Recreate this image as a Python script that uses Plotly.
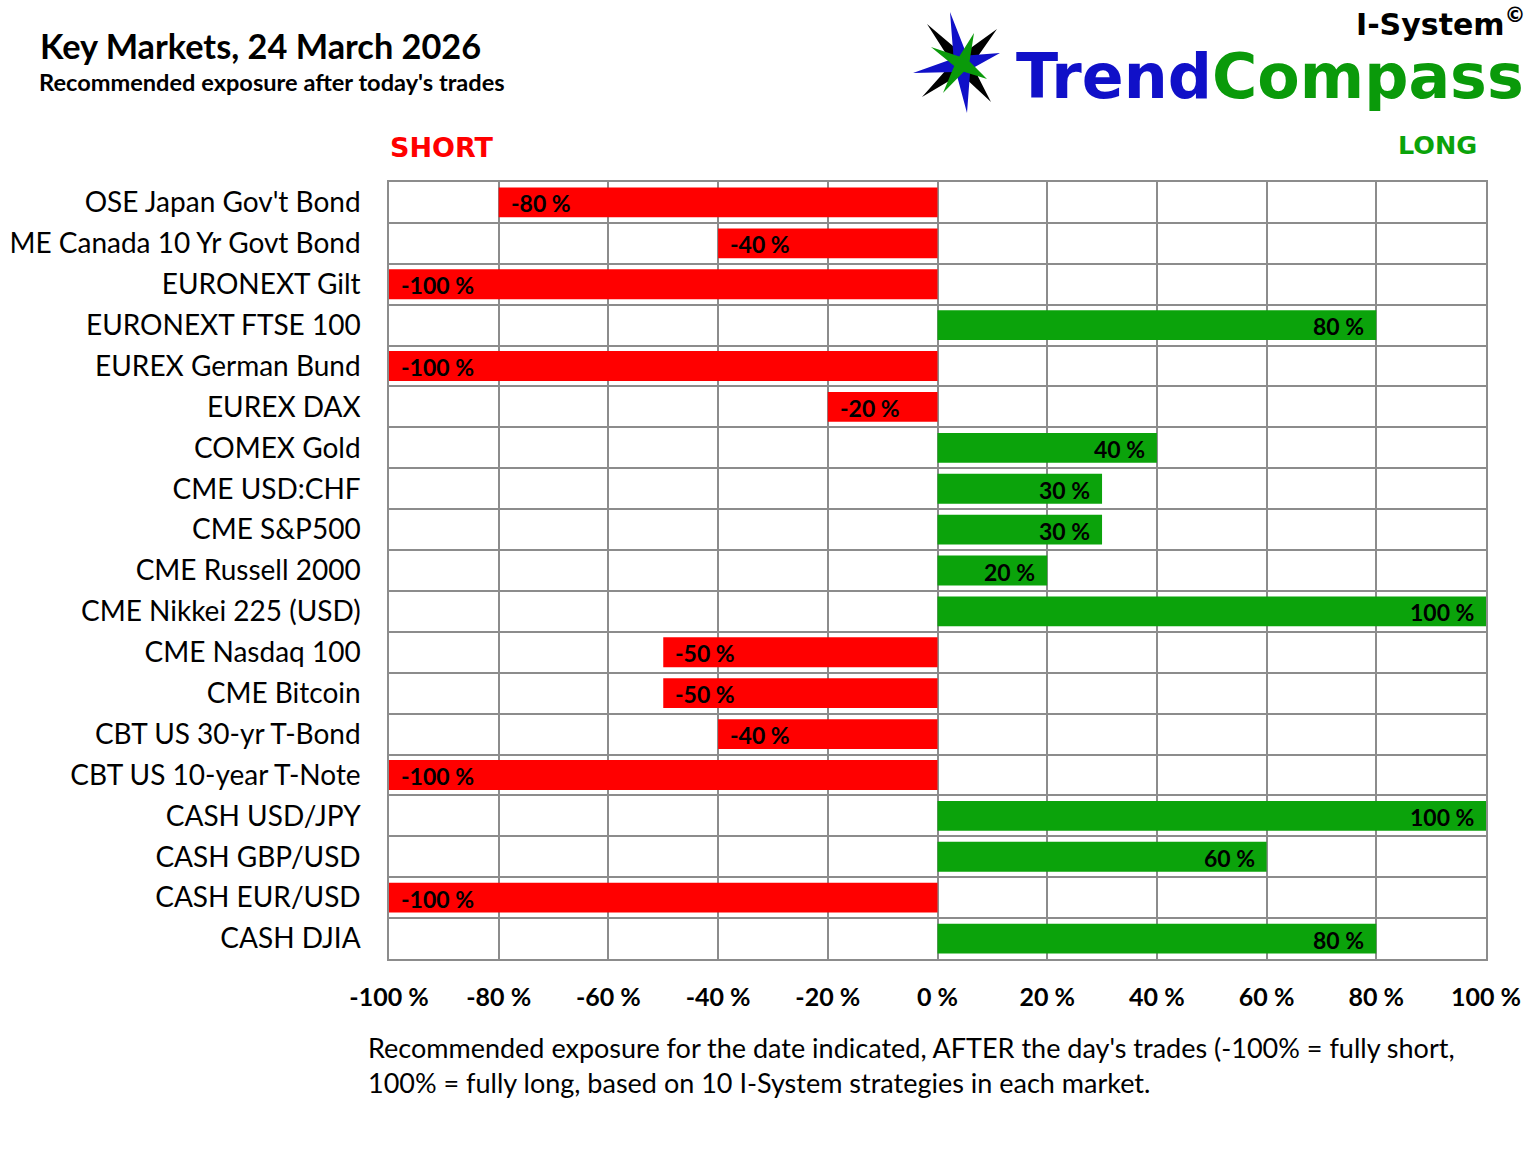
import plotly.graph_objects as go
import math

markets = [
    "OSE Japan Gov't Bond", "ME Canada 10 Yr Govt Bond", "EURONEXT Gilt",
    "EURONEXT FTSE 100", "EUREX German Bund", "EUREX DAX", "COMEX Gold",
    "CME USD:CHF", "CME S&P500", "CME Russell 2000", "CME Nikkei 225 (USD)",
    "CME Nasdaq 100", "CME Bitcoin", "CBT US 30-yr T-Bond",
    "CBT US 10-year T-Note", "CASH USD/JPY", "CASH GBP/USD", "CASH EUR/USD",
    "CASH DJIA",
]
exposure = [-80, -40, -100, 80, -100, -20, 40, 30, 30, 20, 100, -50, -50,
            -40, -100, 100, 60, -100, 80]
x_ticks = [-100, -80, -60, -40, -20, 0, 20, 40, 60, 80, 100]
x_tick_labels = [f"{v} %" for v in x_ticks]

RED = "#FF0000"
GREEN = "#0BA30B"
GRID = "#8C8C8C"
FONT = "Lato"
LOGO_FONT = "DejaVu Sans"

W, H = 1535, 1150
L, R, T, B = 389, 49, 182, 191
PW, PH = W - L - R, H - T - B

def px(x):
    return (x - L) / PW

def py(y):
    return (H - B - y) / PH

ypos = list(range(len(markets)))
colors = [RED if v < 0 else GREEN for v in exposure]

fig = go.Figure()
fig.add_trace(go.Bar(
    x=exposure, y=ypos, orientation="h", marker=dict(color=colors, line=dict(width=0)),
    width=0.73, hoverinfo="skip", showlegend=False,
))

annotations = []
for i, v in enumerate(exposure):
    annotations.append(dict(
        x=v, y=i, xref="x", yref="y", text=f"{v} %", showarrow=False,
        xanchor="left" if v < 0 else "right", xshift=10 if v < 0 else -10,
        yshift=-1,
        font=dict(family=FONT, size=23, color="black", weight="bold"),
    ))

def logo_font(size, color):
    return dict(family=LOGO_FONT, size=size, color=color, weight="bold")

annotations += [
    dict(text="Key Markets, 24 March 2026", x=px(38), y=py(45), xref="paper", yref="paper",
         xanchor="left", yanchor="middle", showarrow=False,
         font=dict(family=FONT, size=34.3, color="black", weight="bold")),
    dict(text="Recommended exposure after today's trades", x=px(37), y=py(82), xref="paper",
         yref="paper", xanchor="left", yanchor="middle", showarrow=False,
         font=dict(family=FONT, size=23.6, color="black", weight="bold")),
    dict(text="SHORT", x=px(388), y=py(147), xref="paper", yref="paper",
         xanchor="left", yanchor="middle", showarrow=False,
         font=logo_font(27, RED)),
    dict(text="LONG", x=px(1479), y=py(145), xref="paper", yref="paper",
         xanchor="right", yanchor="middle", showarrow=False,
         font=logo_font(25.5, GREEN)),
    dict(text='<span style="color:#1010C8">Trend</span><span style="color:#0A9A0A">Compass</span>',
         x=px(1526), y=py(77), xref="paper", yref="paper",
         xanchor="right", yanchor="middle", showarrow=False,
         font=logo_font(61.8, "#0A9A0A")),
    dict(text="I-System<sup>©</sup>", x=px(1528), y=py(22), xref="paper", yref="paper",
         xanchor="right", yanchor="middle", showarrow=False,
         font=logo_font(30, "black")),
    dict(text="Recommended exposure for the date indicated, AFTER the day's trades (-100% = fully short,<br>100% = fully long, based on 10 I-System strategies in each market.",
         x=px(366), y=py(1029), xref="paper", yref="paper", xanchor="left", yanchor="top",
         align="left", showarrow=False,
         font=dict(family=FONT, size=27, color="black")),
]

def star_path(cx, cy, tips, r_in):
    pts = []
    angs = [math.atan2(ty - cy, tx - cx) for tx, ty in tips]
    order = sorted(range(len(tips)), key=lambda k: angs[k])
    n = len(order)
    for j in range(n):
        k = order[j]
        k2 = order[(j + 1) % n]
        a1, a2 = angs[k], angs[k2]
        if a2 <= a1:
            a2 += 2 * math.pi
        am = (a1 + a2) / 2
        pts.append(tips[k])
        pts.append((cx + r_in * math.cos(am), cy + r_in * math.sin(am)))
    return "M " + " L ".join(f"{px(x):.5f},{py(y):.5f}" for x, y in pts) + " Z"

cx, cy = 962, 64
shapes = [
    dict(type="path", xref="paper", yref="paper",
         path=star_path(cx, cy, [(927, 24), (997, 29), (991, 102), (922, 97)], 10),
         fillcolor="black", line=dict(width=0)),
    dict(type="path", xref="paper", yref="paper",
         path=star_path(cx, cy, [(950, 12), (1000, 53), (967, 113), (913, 73)], 10),
         fillcolor="#1010C8", line=dict(width=0)),
    dict(type="path", xref="paper", yref="paper",
         path=star_path(cx, cy, [(974, 33), (987, 79), (943, 93), (931, 47)], 8),
         fillcolor="#0A9A0A", line=dict(width=0)),
]

fig.update_layout(
    width=W, height=H,
    margin=dict(l=L, r=R, t=T, b=B, pad=0, autoexpand=False),
    paper_bgcolor="white", plot_bgcolor="white",
    annotations=annotations,
    shapes=shapes,
    xaxis=dict(
        range=[-100, 100], tickmode="array", tickvals=x_ticks, ticktext=x_tick_labels,
        showgrid=True, gridcolor=GRID, gridwidth=1.5, zeroline=False,
        showline=True, linecolor=GRID, linewidth=1.5, mirror=True,
        ticks="", ticklabelstandoff=15, automargin=False,
        tickfont=dict(family=FONT, size=25, color="black", weight="bold"),
        fixedrange=True,
    ),
    yaxis=dict(
        range=[len(markets) - 0.5, -0.5], tickmode="array", tickvals=ypos, ticktext=markets,
        showgrid=False, zeroline=False,
        showline=True, linecolor=GRID, linewidth=1.5, mirror=True,
        ticks="", ticklabelstandoff=21, automargin=False,
        tickfont=dict(family=FONT, size=28, color="black"),
        minor=dict(tickmode="linear", tick0=0.5, dtick=1, showgrid=True,
                   gridcolor=GRID, gridwidth=1.5, ticks=""),
        fixedrange=True,
    ),
)

fig.write_html("out.html")
